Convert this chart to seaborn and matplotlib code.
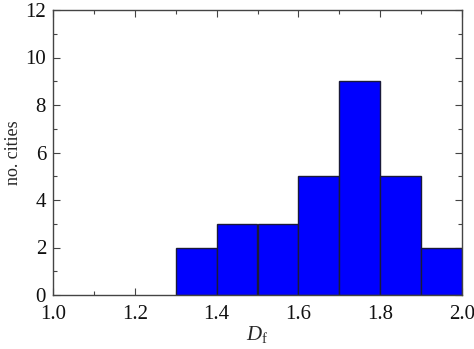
import numpy as np
import matplotlib
matplotlib.use("Agg")
import matplotlib.pyplot as plt
import seaborn as sns
from matplotlib.ticker import MultipleLocator

bin_centers = [1.35, 1.45, 1.55, 1.65, 1.75, 1.85, 1.95]
counts = [2, 3, 3, 5, 9, 5, 2]
bin_edges = [1.3, 1.4, 1.5, 1.6, 1.7, 1.8, 1.9, 2.0]

sns.set_style("ticks")
plt.rcParams['font.family'] = ['Liberation Serif', 'DejaVu Serif']
plt.rcParams['mathtext.fontset'] = 'custom'
plt.rcParams['mathtext.it'] = 'Liberation Serif:italic'
plt.rcParams['mathtext.rm'] = 'Liberation Serif'

fig = plt.figure(figsize=(4.74, 3.49), dpi=100)
ax = fig.add_axes([53/474, 1-295/349, (462-53)/474, (295-10)/349])

sns.histplot(x=bin_centers, weights=counts, bins=bin_edges, ax=ax,
             color='#0000ff', alpha=1.0, edgecolor='#1a1a3a', linewidth=1.0)

ax.set_xlim(1.0, 2.0)
ax.set_ylim(0, 12)
ax.xaxis.set_major_locator(MultipleLocator(0.2))
ax.xaxis.set_minor_locator(MultipleLocator(0.1))
ax.yaxis.set_major_locator(MultipleLocator(2))
ax.yaxis.set_minor_locator(MultipleLocator(1))
ax.set_xticklabels([f"{v:.1f}" for v in ax.get_xticks()])
ax.tick_params(which='both', direction='in', top=True, right=True, colors='#444444',
               labelcolor='#111111', labelsize=15)
ax.tick_params(axis='x', which='major', pad=7)
ax.tick_params(axis='y', which='major', pad=5)
ax.tick_params(which='major', length=5, width=0.8)
ax.tick_params(which='minor', length=3, width=0.8)
for s in ax.spines.values():
    s.set_color('#444444')
    s.set_linewidth(1.0)
ax.set_xlabel(r'$D_{\mathrm{f}}$', fontsize=15, labelpad=0)
ax.set_ylabel('no. cities', fontsize=13)
ax.yaxis.set_label_coords(-0.077, 0.5)

fig.savefig('out.png', dpi=100)
